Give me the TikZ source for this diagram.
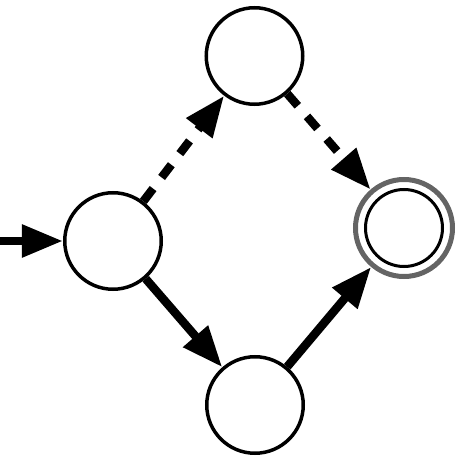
\documentclass[tikz,border=0pt]{standalone}
\usetikzlibrary{arrows.meta}
\definecolor{ringgray}{RGB}{100,100,100}
\begin{document}
\begin{tikzpicture}[
	state/.style={circle, draw, line width=0.07cm, minimum size=1.93cm, inner sep=0},
	final/.style={circle, draw=ringgray, line width=0.1cm, minimum size=1.94cm, inner sep=0},
	finalin/.style={circle, draw, line width=0.06cm, minimum size=1.54cm, inner sep=0},
	edge/.style={->, line width=0.17cm},
	dashedge/.style={edge, dash pattern=on 0.32cm off 0.28cm},
	>={Triangle[length=0.82cm, width=0.62cm]}
	]
	\useasboundingbox (0,0) rectangle (9.2,9.2);
	\node[state] (q0) at (2.26,4.38) {};
	\node[state] (q1) at (5.09,8.08) {};
	\node[state] (q2) at (5.1,1.1) {};
	\node[final] (q3) at (8.08,4.64) {};
	\node[finalin] (q3i) at (q3) {};
	\coordinate (start) at (0,4.38);
	
	\draw[edge] (start) -- (q0);
	\draw[dashedge] (q0) -- (q1);
	\draw[dashedge] (q1) -- (q3);
	\draw[edge] (q0) -- (q2);
	\draw[edge] (q2) -- (q3);
\end{tikzpicture}
\end{document}
